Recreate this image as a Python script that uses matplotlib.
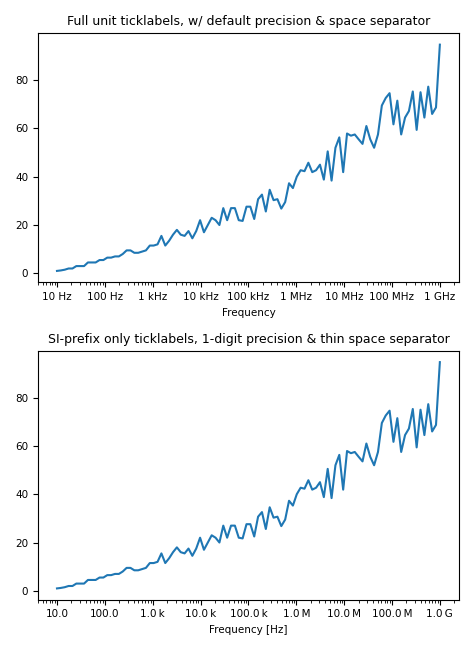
import numpy as np
import matplotlib
matplotlib.use("Agg")
import matplotlib.pyplot as plt
from matplotlib.ticker import EngFormatter

# frequencies (Hz), log-spaced from 10 Hz to 1 GHz
xs = np.logspace(1, 9, 100)
ys = [1, 1.2, 1.5, 2, 2, 3, 3, 3, 4.5, 4.5, 4.5, 5.5,
      5.5, 6.5, 6.5, 7, 7, 8, 9.5, 9.5, 8.5, 8.5, 9, 9.5, 11.5,
      11.5, 12, 15.5, 11.5, 13.5, 16, 18, 16, 15.5, 17.5, 14.5, 17.5, 22,
      17, 20, 23, 22, 20, 27, 22, 27, 27, 22,
      21.7, 27.6, 27.6, 22.5, 30.7, 32.6, 25.6, 34.6, 30.3, 30.7, 26.8,
      29.5, 37.3, 35.3, 40, 42.7, 42.3, 45.8, 41.9, 42.7, 45, 38.8,
      50.5, 38.4, 52, 56.3, 41.9, 57.9, 57, 57.5, 55.5, 53.6, 61,
      55.5, 52, 57.5, 69.5, 72.6, 74.6, 61.7, 71.5, 57.5, 64.5, 67.2,
      75.3, 59.4, 75, 64.5, 77.3, 66, 68.7, 94.7]

fig, (ax0, ax1) = plt.subplots(nrows=2, figsize=(4.74, 6.5), dpi=100)
for ax in (ax0, ax1):
    ax.set_xscale('log')

ax0.set_title('Full unit ticklabels, w/ default precision & space separator', fontsize=9)
ax0.xaxis.set_major_formatter(EngFormatter(unit='Hz'))
ax0.plot(xs, ys)
ax0.set_xlabel('Frequency', fontsize=7.5)

ax1.set_title('SI-prefix only ticklabels, 1-digit precision & thin space separator', fontsize=9)
ax1.xaxis.set_major_formatter(EngFormatter(places=1, sep="\N{THIN SPACE}"))
ax1.plot(xs, ys)
ax1.set_xlabel('Frequency [Hz]', fontsize=7.5)

for ax in (ax0, ax1):
    ax.tick_params(labelsize=7.5)

plt.tight_layout()
plt.savefig('out.png')
